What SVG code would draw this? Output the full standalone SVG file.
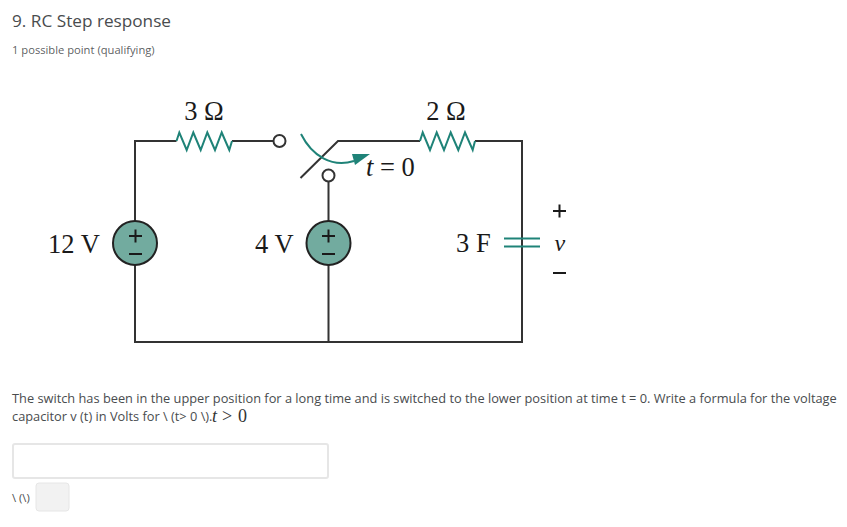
<svg xmlns="http://www.w3.org/2000/svg" width="847" height="527" viewBox="0 0 847 527">
<style>
.ui{font-family:"Open Sans",sans-serif;fill:#494c4e}
.c{font-family:"Liberation Serif",serif;fill:#1a1a1a;font-size:26.500px}
.w{fill:none;stroke:#333;stroke-width:2}
.t{fill:none;stroke:#1f8378;stroke-width:2}
.s{fill:#72ab9f;stroke:#222;stroke-width:2}
.p{fill:none;stroke:#1a1a1a;stroke-width:2}
.o{fill:#fff;stroke:#333;stroke-width:2}
</style>
<rect width="847" height="527" fill="#fff"/>
<text class="ui" x="12" y="27" font-size="17.200">9. RC Step response</text>
<text class="ui" x="12" y="54" font-size="11.200" fill-opacity="0.9">1 possible point (qualifying)</text>
<g id="connectors">
<path class="w" d="M135 221V141H176.500M232 141H273M135 265V342H522V141H475M420 141H338L300.500 178M328.500 182V221M328.500 265V342"/>
<path class="w" d="M522 141V238M522 247V342"/>
</g>
<g id="r1"><path class="t" d="M176.500 141L179.300 132.500L186.700 150L193.300 132.500L200.700 150L207.300 132.500L215 150L221.700 132.500L229.300 150L232 141"/><text class="c" x="204" y="119.500" text-anchor="middle">3 Ω</text></g>
<g id="r2"><path class="t" d="M420 141L422.700 132.500L430 150L436.700 132.500L444 150L450.700 132.500L458.300 150L465 132.500L472.700 150L475 141"/><text class="c" x="446" y="119.500" text-anchor="middle">2 Ω</text></g>
<g id="upper-terminal"><circle class="o" cx="279.500" cy="141" r="6"/></g>
<g id="lower-terminal"><circle class="o" cx="328.500" cy="175.500" r="6"/></g>
<g id="switch-arrow"><path class="t" stroke-width="2.500" d="M301 134C312 156 332 168 354 161"/><path d="M352 154L370 154L355 165z" fill="#1f8378"/><text class="c" x="366" y="176"><tspan font-style="italic">t</tspan> = 0</text></g>
<g id="v12"><circle class="s" cx="135" cy="243" r="22"/><path class="p" d="M129 236H142M135.500 229.500V242.500M129 254H142"/><text class="c" x="48" y="253">12 V</text></g>
<g id="v4"><circle class="s" cx="328.500" cy="243" r="22"/><path class="p" d="M322 236H335M328.500 229.500V242.500M322 254H335"/><text class="c" x="255" y="253">4 V</text></g>
<g id="cap"><path class="t" d="M504 238.500H540M504 246.500H540"/><text class="c" x="456" y="252">3 F</text></g>
<g id="v-label"><path class="p" d="M553 211H566M559.500 204.500V217.500M553 273H566"/><text class="c" x="554.500" y="251" style="font-size:24px;font-style:italic">v</text></g>
<text class="ui" x="12" y="403" font-size="12.810">The switch has been in the upper position for a long time and is switched to the lower position at time t = 0. Write a formula for the voltage</text>
<text class="ui" x="12" y="421" font-size="12.810">capacitor v (t) in Volts for \ (t&gt; 0 \).</text>
<g font-family="'Liberation Serif',serif" font-size="18" fill="#333"><text x="212" y="422" font-style="italic">t</text><text x="222" y="422">&gt;</text><text x="238" y="422">0</text></g>
<rect x="13" y="444" width="315" height="34" rx="2" fill="#fff" stroke="#e6e6e6" stroke-width="2"/>
<text class="ui" x="12" y="502" font-size="11.200">\ (\)</text>
<rect x="36" y="483" width="33" height="28" rx="3" fill="#f2f2f2" stroke="#e6e6e6"/>
</svg>
